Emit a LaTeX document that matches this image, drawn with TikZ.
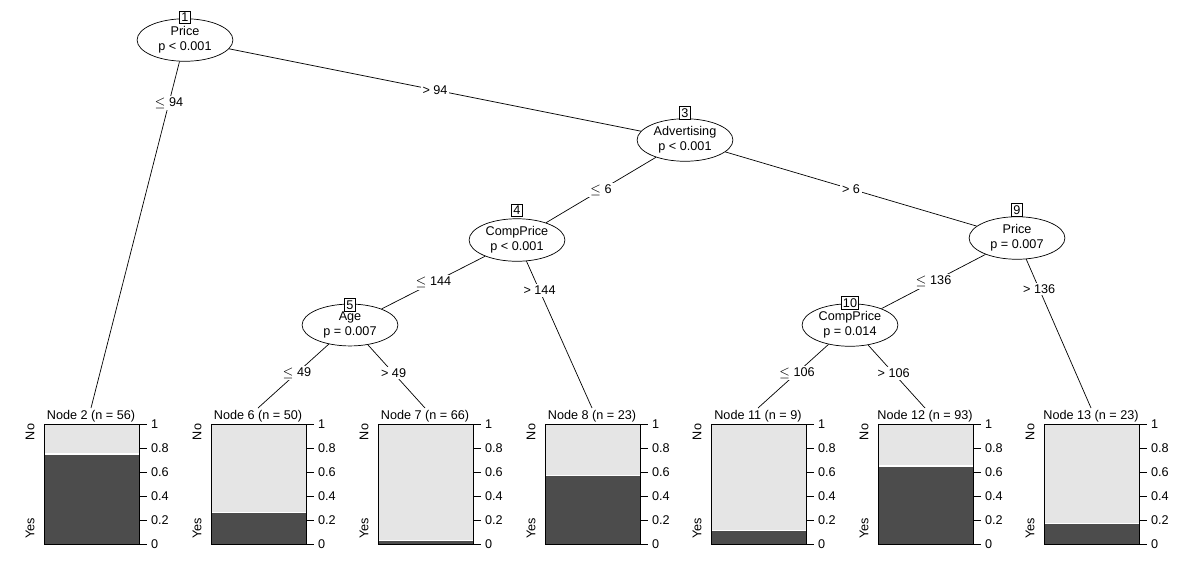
\documentclass[tikz,border=0pt]{standalone}
\usepackage{fontspec}
\setmainfont{Liberation Sans}
\usetikzlibrary{shapes.geometric}
\tikzset{
    split/.style={ellipse, draw, inner sep=1pt, minimum width=96pt*0.02/0.0352, align=center, font=\fontsize{7.2}{8.4}\selectfont},
    idbox/.style={draw, fill=white, inner sep=1pt, font=\fontsize{7.2}{8}\selectfont},
    lab/.style={fill=white, inner sep=1pt, font=\fontsize{7.2}{8}\selectfont},
    ttl/.style={inner sep=1pt, anchor=south, font=\fontsize{7.2}{8}\selectfont},
}
\begin{document}
\begin{tikzpicture}[x=0.02cm, y=-0.02cm]
    \useasboundingbox (0,0) rectangle (1200,576);
    % inner nodes
    \node[split] (n1) at (185,40) {Price\\p < 0.001};
    \node[idbox] at (185,17) {1};
    \node[split] (n3) at (685,140) {Advertising\\p < 0.001};
    \node[idbox] at (685,113) {3};
    \node[split] (n4) at (517,240) {CompPrice\\p < 0.001};
    \node[idbox] at (517,210) {4};
    \node[split] (n5) at (350,325) {Age\\p = 0.007};
    \node[idbox] at (350,305) {5};
    \node[split] (n9) at (1017,238) {Price\\p = 0.007};
    \node[idbox] at (1017,210) {9};
    \node[split] (n10) at (850,325) {CompPrice\\p = 0.014};
    \node[idbox] at (850,303) {10};

    % terminal panels
    \foreach \i/\x/\p/\n in {2/44/0.75/56, 6/211/0.26/50, 7/378/0.03/66, 8/545/0.57/23,
                             11/711/0.11/9, 12/878/0.65/93, 13/1044/0.17/23} {
        \fill[black!70] (\x,544) rectangle (\x+95,544-120*\p);
        \fill[black!10] (\x,424) rectangle (\x+95,544-120*\p);
        \draw[white, line width=0.6pt] (\x,544-120*\p) -- (\x+95,544-120*\p);
        \draw (\x,424) rectangle (\x+95,544);
        \node[ttl] (t\i) at (\x+47,424) {Node \i\ (n = \n)};
        \foreach \v/\s in {0/0, 0.2/0.2, 0.4/0.4, 0.6/0.6, 0.8/0.8, 1/1} {
            \draw (\x+95,544-120*\v) -- (\x+103,544-120*\v);
            \node[anchor=west, inner sep=1pt, font=\fontsize{7.2}{8}\selectfont] at (\x+105,544-120*\v) {\s};
        }
        \node[rotate=90, font=\fontsize{7.2}{8}\selectfont] at (\x-14,432) {No};
        \node[rotate=90, font=\fontsize{7.2}{8}\selectfont] at (\x-14,528) {Yes};
    }

    % edges
    \draw (n1) -- (t2.north) node[lab, pos=0.12] {$\leq$ 94};
    \draw (n1) -- (n3) node[lab, pos=0.5] {> 94};
    \draw (n3) -- (n4) node[lab, pos=0.5] {$\leq$ 6};
    \draw (n3) -- (n9) node[lab, pos=0.5] {> 6};
    \draw (n4) -- (n5) node[lab, pos=0.5] {$\leq$ 144};
    \draw (n4) -- (t8.north) node[lab, pos=0.2] {> 144};
    \draw (n5) -- (t6.north) node[lab, pos=0.45] {$\leq$ 49};
    \draw (n5) -- (t7.north) node[lab, pos=0.45] {> 49};
    \draw (n9) -- (n10) node[lab, pos=0.5] {$\leq$ 136};
    \draw (n9) -- (t13.north) node[lab, pos=0.2] {> 136};
    \draw (n10) -- (t11.north) node[lab, pos=0.45] {$\leq$ 106};
    \draw (n10) -- (t12.north) node[lab, pos=0.45] {> 106};
\end{tikzpicture}
\end{document}
